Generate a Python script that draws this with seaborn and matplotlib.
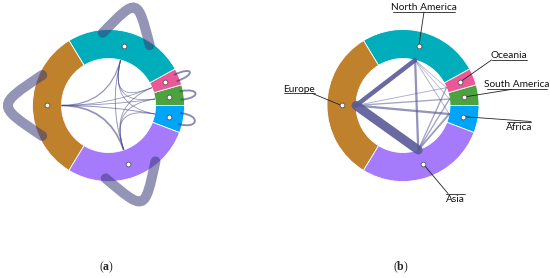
import numpy as np
import matplotlib.pyplot as plt
import seaborn as sns
from matplotlib.patches import Wedge, PathPatch
from matplotlib.path import Path

# regions in counter-clockwise order, starting just below 3 o'clock
regions = ["Africa", "South America", "Oceania", "North America", "Europe", "Asia"]
shares = [5.8, 4.4, 3.6, 25.7, 32.6, 27.9]
self_flow = [1.5, 1.5, 1.5, 8, 8, 8]

link_src = ["Europe", "Europe", "North America", "Europe", "Europe", "Europe",
            "North America", "North America", "North America",
            "Asia", "Asia", "Asia"]
link_dst = ["Asia", "North America", "Asia", "Africa", "South America", "Oceania",
            "Oceania", "South America", "Africa",
            "Oceania", "South America", "Africa"]
link_weight = [10, 5, 2.5, 2.5, 1.5, 1.0,
               0.8, 0.8, 1.0,
               1.5, 1.5, 2.0]

palette = ["#00A4F9", "#4BA23F", "#EA5896", "#00AEBB", "#C0812C", "#A57BFB"]
edge_col = "#4f4f8f"

sns.set_theme(style="white")
plt.rcParams["font.family"] = ["Lato", "DejaVu Sans"]
plt.rcParams["mathtext.fontset"] = "custom"
plt.rcParams["mathtext.bf"] = "Liberation Serif:bold"
plt.rcParams["mathtext.rm"] = "Liberation Serif"

fig = plt.figure(figsize=(5.5, 2.78), dpi=100)
ax = fig.add_axes([0, 0, 1, 1])

R_OUT, R_IN = 76, 47
R_MID = (R_OUT + R_IN) / 2
centers = {"a": (108.5, 105.5), "b": (403, 105.5)}

spans = np.array(shares) / sum(shares) * 360
theta1 = -spans[0] + np.concatenate([[0], np.cumsum(spans)[:-1]])
theta2 = theta1 + spans
mid = (theta1 + theta2) / 2
idx = {r: i for i, r in enumerate(regions)}


def polar(c, r, deg):
    t = np.radians(deg)
    return (c[0] + r * np.cos(t), c[1] - r * np.sin(t))


def ring(c):
    for i in range(len(regions)):
        # y axis is flipped, so angles get negated
        ax.add_patch(Wedge(c, R_OUT, -theta2[i], -theta1[i], width=R_OUT - R_IN,
                           facecolor=palette[i], edgecolor="white", lw=0.6, zorder=1))
    pts = [polar(c, R_MID, m) for m in mid]
    sns.scatterplot(x=[p[0] for p in pts], y=[p[1] for p in pts], ax=ax, s=12,
                    color="white", edgecolor="#555555", linewidth=0.6, zorder=6)


# ---- (a) chord style with self loops
ca = centers["a"]
ring(ca)
for s, d, w in zip(link_src, link_dst, link_weight):
    p0 = polar(ca, R_IN, mid[idx[s]])
    p1 = polar(ca, R_IN, mid[idx[d]])
    path = Path([p0, ca, p1], [Path.MOVETO, Path.CURVE3, Path.CURVE3])
    ax.add_patch(PathPatch(path, fill=False, edgecolor=edge_col, lw=0.5 + 0.08 * w,
                           alpha=0.6, zorder=3))

for i, f in enumerate(self_flow):
    big = f > 3
    off = 0.21 * spans[i]
    a0, a1 = mid[i] + off, mid[i] - off
    p0 = polar(ca, 73, a0)
    p3 = polar(ca, 73, a1)
    if big:
        p1 = p2 = polar(ca, 112, mid[i])
    else:
        p1 = polar(ca, 93, a0)
        p2 = polar(ca, 93, a1)
    path = Path([p0, p1, p2, p3], [Path.MOVETO, Path.CURVE4, Path.CURVE4, Path.CURVE4])
    ax.add_patch(PathPatch(path, fill=False, edgecolor="#3c3c7a", lw=0.9 * f,
                           alpha=0.55 if big else 0.6, capstyle="round", zorder=4))

# ---- (b) straight edges with labels
cb = centers["b"]
ring(cb)
for s, d, w in zip(link_src, link_dst, link_weight):
    p0 = polar(cb, R_IN, mid[idx[s]])
    p1 = polar(cb, R_IN, mid[idx[d]])
    ax.plot([p0[0], p1[0]], [p0[1], p1[1]], color="#5a5a98", lw=max(0.4, 0.65 * w),
            alpha=min(0.9, 0.4 + 0.1 * w), solid_capstyle="round", zorder=3)

# label placement: text centre, rule x-range, rule y, leader end
label_pos = {
    "North America": (424, 7.5, 393, 455, 12, 424, 12),
    "Oceania": (509, 55.5, 491.5, 527, 60, 491.5, 60),
    "South America": (517, 84.5, 487, 547, 89.3, 512, 89.3),
    "Africa": (519.5, 127, 506.5, 531, 121.5, 531, 121.5),
    "Asia": (455.5, 199, 446, 465, 193.5, 448, 193.5),
    "Europe": (299, 89, 284, 315, 93.3, 312, 93.3),
}
for r, (tx, ty, lx0, lx1, ly, ex, ey) in label_pos.items():
    d = polar(cb, R_MID, mid[idx[r]])
    ax.plot([d[0], ex], [d[1], ey], color="#222222", lw=0.6, zorder=5)
    ax.plot([lx0, lx1], [ly, ly], color="#222222", lw=0.6, zorder=5)
    ax.text(tx, ty, r, ha="center", va="center", fontsize=7.3, color="#111111")

ax.text(106.5, 267, r"($\mathbf{a}$)", ha="center", va="center", fontsize=8.5,
        family="Liberation Serif")
ax.text(400.5, 267, r"($\mathbf{b}$)", ha="center", va="center", fontsize=8.5,
        family="Liberation Serif")

ax.set_xlim(0, 550)
ax.set_ylim(278, 0)
ax.axis("off")
fig.savefig("out.png", dpi=100)
